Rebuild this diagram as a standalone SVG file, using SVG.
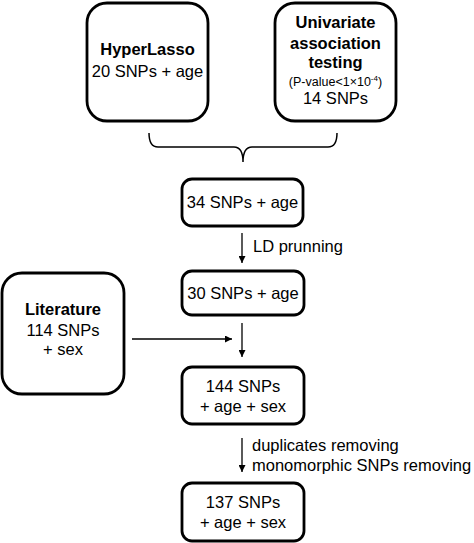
<svg xmlns="http://www.w3.org/2000/svg" width="474" height="543" viewBox="0 0 474 543">
<defs>
<style>
.box{fill:#fff;stroke:#000;stroke-width:2.8}
.t{font-family:"Liberation Sans",Arial,sans-serif;font-size:16.5px;fill:#000;text-anchor:middle}
.b{font-weight:bold}
.l{font-family:"Liberation Sans",Arial,sans-serif;font-size:16.5px;fill:#000}
.c{stroke:#000;stroke-width:1.3;fill:none}
</style>
<marker id="ah" viewBox="0 0 10 10" refX="10" refY="5" markerWidth="7" markerHeight="7" orient="auto" markerUnits="userSpaceOnUse">
<path d="M0,0 L10,5 L0,10 z" fill="#000"/>
</marker>
</defs>
<rect width="474" height="543" fill="#fff"/>
<g id="hyperlasso">
<rect class="box" x="87" y="3" width="121" height="118" rx="20"/>
<text class="t b" x="147.5" y="55">HyperLasso</text>
<text class="t" x="147.5" y="77">20 SNPs + age</text>
</g>
<g id="univariate">
<rect class="box" x="275" y="3" width="121" height="118" rx="20"/>
<text class="t b" x="335.5" y="28">Univariate</text>
<text class="t b" x="335.5" y="49">association</text>
<text class="t b" x="335.5" y="68">testing</text>
<text class="t" x="335.5" y="86" style="font-size:12.5px">(P-value&lt;1×10<tspan dy="-5" style="font-size:8px">-4</tspan><tspan dy="5">)</tspan></text>
<text class="t" x="335.5" y="104">14 SNPs</text>
</g>
<g id="n34">
<rect class="box" x="182" y="179" width="121" height="47" rx="10"/>
<text class="t" x="242.5" y="208">34 SNPs + age</text>
</g>
<g id="n30">
<rect class="box" x="182" y="271" width="122" height="44" rx="10"/>
<text class="t" x="243" y="299">30 SNPs + age</text>
</g>
<g id="literature">
<rect class="box" x="2" y="273" width="122" height="121" rx="20"/>
<text class="t b" x="63" y="315">Literature</text>
<text class="t" x="63" y="336">114 SNPs</text>
<text class="t" x="63" y="355">+ sex</text>
</g>
<g id="n144">
<rect class="box" x="182" y="367" width="122" height="57" rx="10"/>
<text class="t" x="243" y="392">144 SNPs</text>
<text class="t" x="243" y="412">+ age + sex</text>
</g>
<g id="n137">
<rect class="box" x="182" y="483" width="122" height="58" rx="10"/>
<text class="t" x="243" y="508">137 SNPs</text>
<text class="t" x="243" y="528">+ age + sex</text>
</g>
<g id="connectors">
<path class="c" d="M149,133 Q149,147 158,147 L234,147 Q243,147 243,162 Q243,147 252,147 L328,147 Q337,147 337,133" style="stroke-width:1.5"/>
<line class="c" x1="242" y1="233" x2="242" y2="263" marker-end="url(#ah)"/>
<text class="l" x="253" y="252">LD prunning</text>
<line class="c" x1="132" y1="339" x2="232" y2="339" marker-end="url(#ah)"/>
<line class="c" x1="242" y1="323" x2="242" y2="357" marker-end="url(#ah)"/>
<line class="c" x1="242" y1="438" x2="242" y2="472" marker-end="url(#ah)"/>
<text class="l" x="252" y="451">duplicates removing</text>
<text class="l" x="252" y="471">monomorphic SNPs removing</text>
</g>
</svg>
